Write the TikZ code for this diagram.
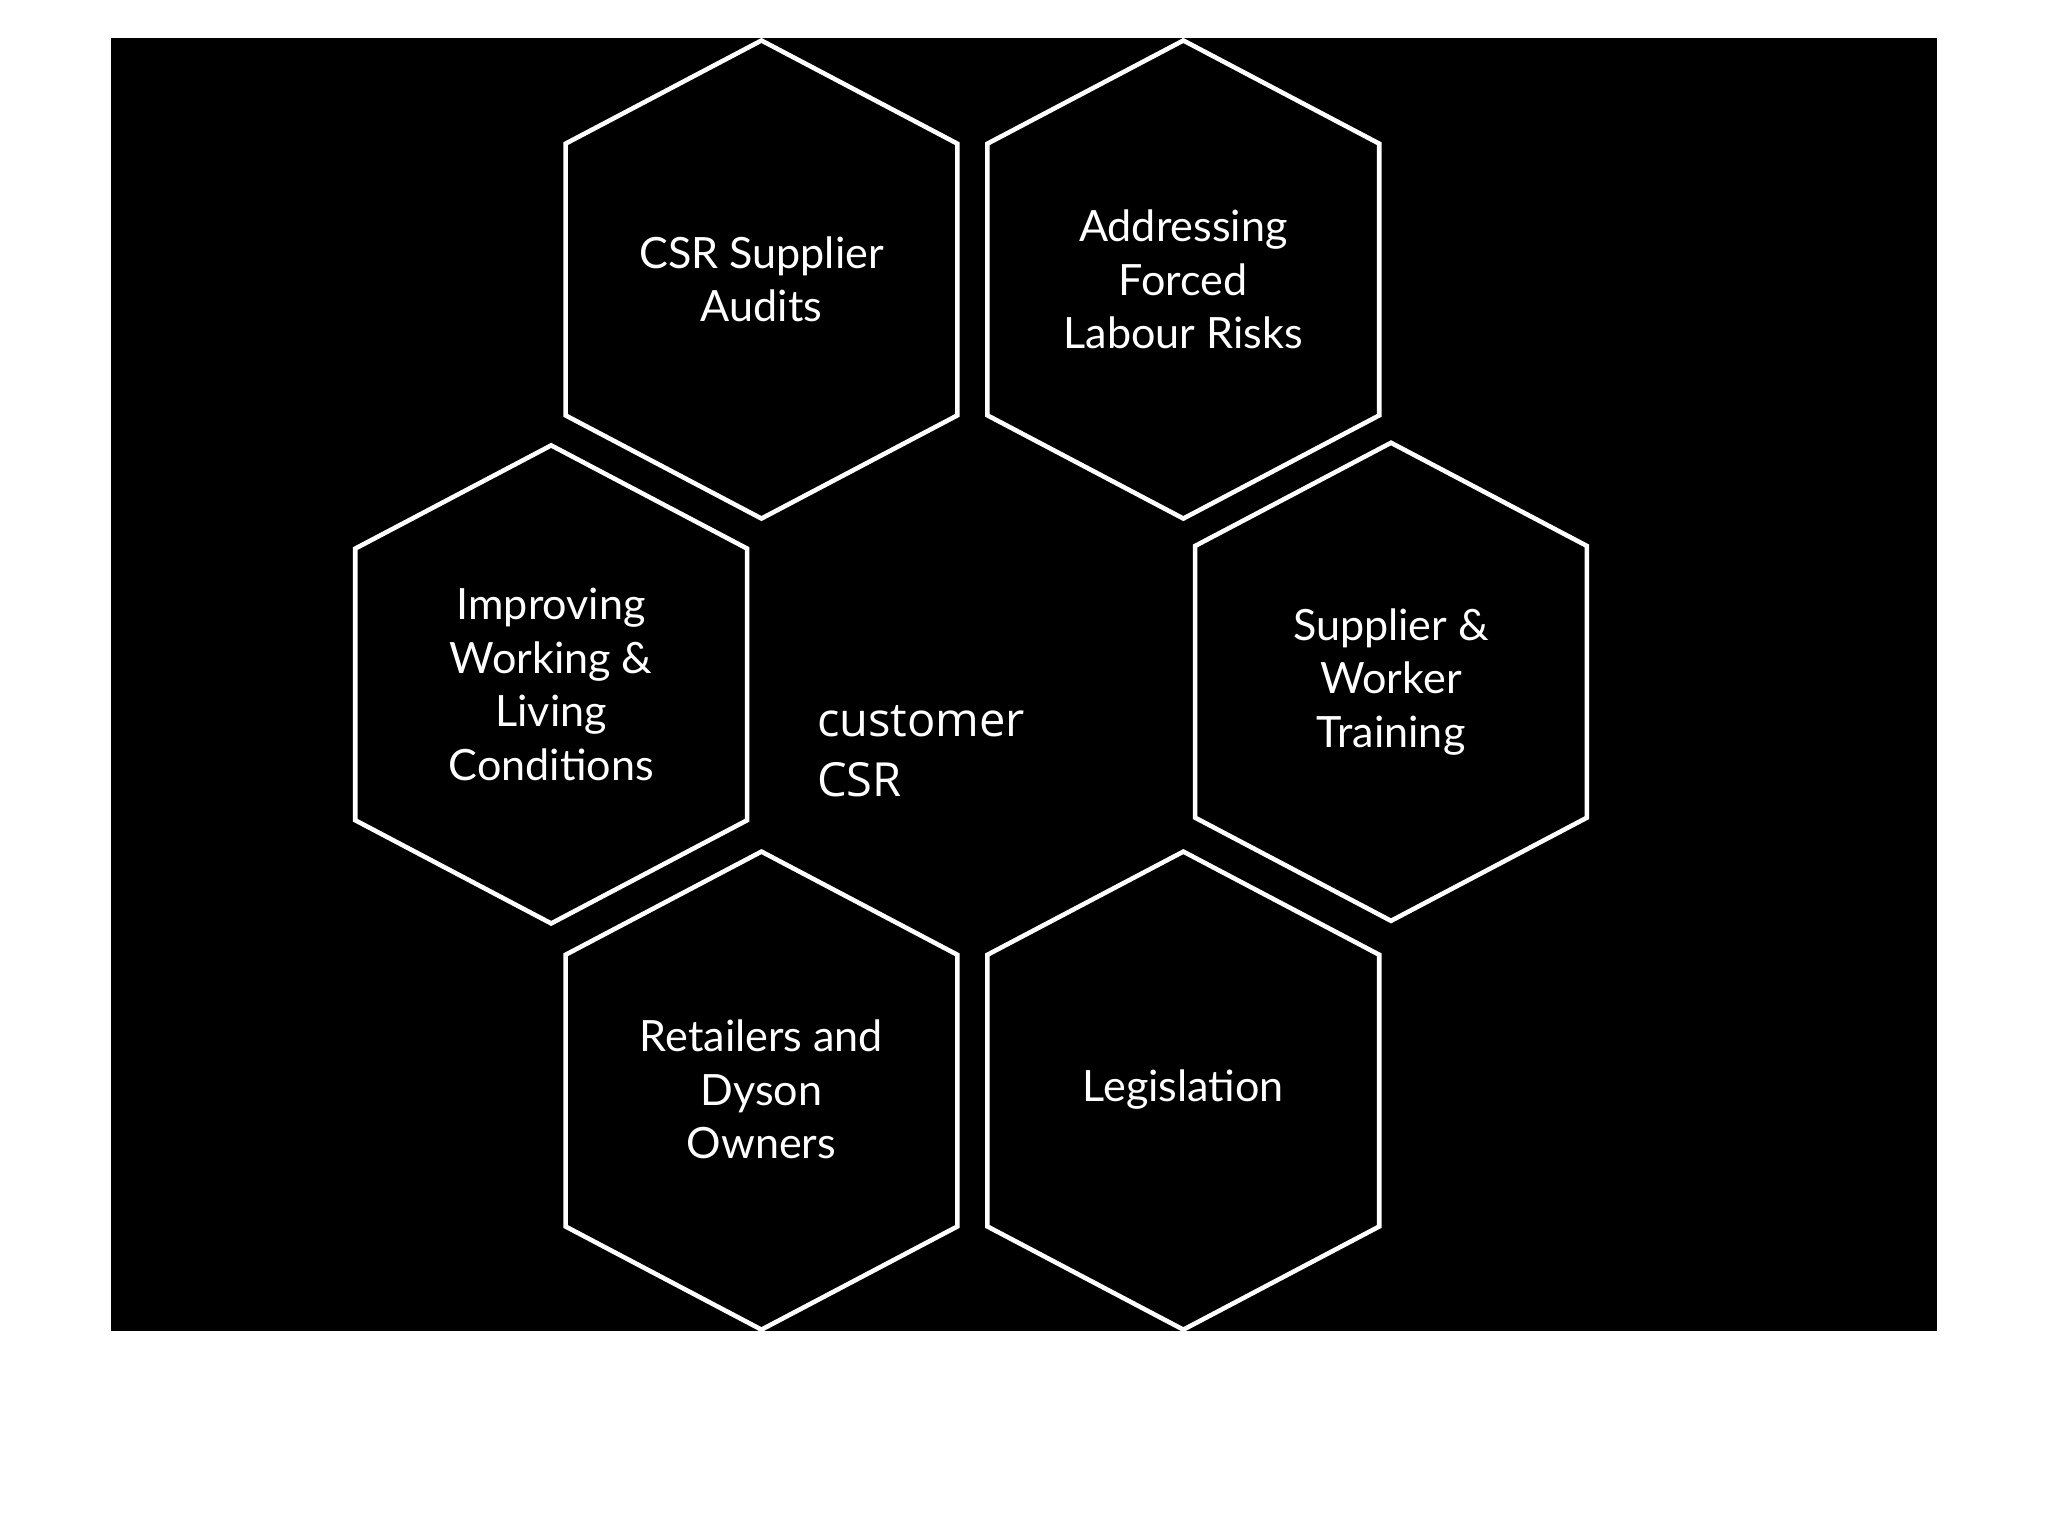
\documentclass[tikz,border=0pt]{standalone}
\usepackage{fontspec}
\setmainfont{Lato}
\newfontfamily\ctrfont{Open Sans}
\begin{document}
\begin{tikzpicture}[x=1pt,y=-1pt,
  hexline/.style={draw=white,line width=3.5pt,line join=miter},
  hextext/.style={text=white,align=center,font=\fontsize{33}{41}\selectfont}]
\useasboundingbox[fill=white] (0,0) rectangle (1568,1176);
\fill[black] (85,29) rectangle (1483,1019);
\newcommand{\hexat}[2]{\draw[hexline] (#1,#2-183) -- (#1+150,#2-104) -- (#1+150,#2+104) -- (#1,#2+183) -- (#1-150,#2+104) -- (#1-150,#2-104) -- cycle;}
\hexat{583}{214}
\hexat{906}{214}
\hexat{422}{524}
\hexat{1065}{522}
\hexat{583}{835}
\hexat{906}{835}
\node[hextext] (a) at (583,214) {CSR Supplier\\Audits};
\node[hextext] (b) at (906,214) {Addressing\\Forced\\Labour Risks};
\node[hextext] (c) at (422,524) {Improving\\Working \&\\Living\\Conditions};
\node[hextext] (d) at (1065,522) {Supplier \&\\Worker\\Training};
\node[hextext] (e) at (583,834) {Retailers and\\Dyson\\Owners};
\node[hextext] (f) at (906,834) {Legislation};
\node[text=white,align=left,anchor=west,font=\ctrfont\fontsize{36}{46}\selectfont] (g) at (622,575) {customer\\CSR};
\end{tikzpicture}
\end{document}
